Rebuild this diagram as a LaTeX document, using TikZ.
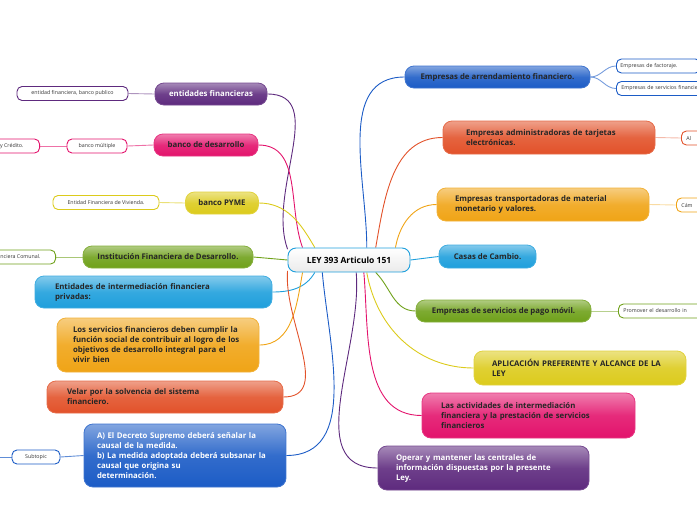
\documentclass[tikz,border=0pt]{standalone}
\usepackage{fontspec}
\setmainfont{Open Sans}
\usetikzlibrary{backgrounds,calc}
\hyphenpenalty=10000
\exhyphenpenalty=10000
\definecolor{cpur}{HTML}{5E2A7E}
\definecolor{cpink}{HTML}{E3136C}
\definecolor{cyel}{HTML}{DCCB1C}
\definecolor{cgrn}{HTML}{6FA11A}
\definecolor{clb}{HTML}{1E9FDC}
\definecolor{cor}{HTML}{F0A416}
\definecolor{cred}{HTML}{E2522A}
\definecolor{cblu}{HTML}{1C5CC6}
\tikzset{
 mainb/.style={rounded corners=9pt, draw=#1!85!white, line width=0.8pt, top color=#1!55!white, bottom color=#1, middle color=#1!90!white, font=\bfseries\fontsize{7.8}{10}\selectfont, text=black!85, inner sep=0pt},
 leafb/.style={rounded corners=5pt, draw=#1, line width=0.9pt, fill=white, font=\fontsize{5.3}{6.5}\selectfont, text=black!80, inner sep=0pt, minimum height=14pt},
 con/.style={line width=0.9pt, #1},
}
\begin{document}
\begin{tikzpicture}[x=1pt,y=-1pt]
\clip (0,0) rectangle (697,520);
% center
\node[rounded corners=8pt, draw=clb, line width=0.9pt, top color=white, bottom color=black!8, font=\bfseries\fontsize{8.5}{10}\selectfont, minimum width=122pt, minimum height=24pt, inner sep=0pt] (ctr) at (349,260) {LEY 393 Articulo 151};
% left main
\node[mainb=cpur, text=white, minimum width=112pt, minimum height=22pt] (ef) at (211,94) {entidades financieras};
\node[mainb=cpink, minimum width=104pt, minimum height=22pt] (bd) at (206,145) {banco de desarrollo};
\node[mainb=cyel, minimum width=73pt, minimum height=22pt] (bp) at (222,203) {banco PYME};
\node[mainb=cgrn, minimum width=170pt, minimum height=22pt] (ifd) at (168,257) {Institución Financiera de Desarrollo.};
\node[mainb=clb, minimum width=237pt, minimum height=32pt, text width=197pt, align=left] (eip) at (153.5,292) {Entidades de intermediación financiera\\ privadas:};
\node[mainb=cor, minimum width=202pt, minimum height=54pt, text width=170pt, align=left] (sf) at (158,345) {Los servicios financieros deben cumplir la\\ función social de contribuir al logro de los\\ objetivos de desarrollo integral para el\\ vivir bien};
\node[mainb=cred, minimum width=236pt, minimum height=32pt, text width=196pt, align=left] (vs) at (165,397) {Velar por la solvencia del sistema\\ financiero.};
\node[mainb=cblu, text=white, minimum width=202pt, minimum height=63pt, text width=176pt, align=left] (dec) at (185,455.5) {A) El Decreto Supremo deberá señalar la\\ causal de la medida.\\ b) La medida adoptada deberá subsanar la\\ causal que origina su\\ determinación.};
% right main
\node[mainb=cblu, minimum width=185pt, minimum height=22pt] (arr) at (497.5,77) {Empresas de arrendamiento financiero.};
\node[mainb=cred, minimum width=212pt, minimum height=33pt, text width=166pt, align=left] (tar) at (549,137.5) {Empresas administradoras de tarjetas\\ electrónicas.};
\node[mainb=cor, minimum width=212pt, minimum height=33pt, text width=176pt, align=left] (tra) at (543,204.5) {Empresas transportadoras de material\\ monetario y valores.};
\node[mainb=clb, minimum width=97pt, minimum height=23pt] (cc) at (487.5,256.5) {Casas de Cambio.};
\node[mainb=cgrn, minimum width=175pt, minimum height=22pt] (pm) at (503.5,311) {Empresas de servicios de pago móvil.};
\node[mainb=cyel, minimum width=212pt, minimum height=34pt, text width=176pt, align=left] (apl) at (580,368) {APLICACIÓN PREFERENTE Y ALCANCE DE LA\\ LEY};
\node[mainb=cpink, minimum width=213pt, minimum height=45pt, text width=175pt, align=left] (act) at (528.5,415.5) {Las actividades de intermediación\\ financiera y la prestación de servicios\\ financieros};
\node[mainb=cpur, text=white, minimum width=211pt, minimum height=44pt, text width=175pt, align=left] (op) at (483.5,468) {Operar y mantener las centrales de\\ información dispuestas por la presente\\ Ley.};
% leaves
\node[leafb=cpur, minimum width=111pt] (l1) at (72.5,93.5) {entidad financiera, banco publico};
\node[leafb=cpink, minimum width=60pt] (l2) at (97,146) {banco múltiple};
\node[leafb=cpink, minimum width=60pt, anchor=east] (l3) at (40,146) {o y Crédito.};
\node[leafb=cyel, minimum width=106pt] (l4) at (106,202.5) {Entidad Financiera de Vivienda.};
\node[leafb=cgrn, minimum width=70pt, anchor=east] (l5) at (56,257) {nciera Comunal.};
\node[leafb=cblu, minimum width=48pt] (l6) at (36,457) {Subtopic};
\coordinate (l6e) at (0,457);
\node[leafb=cblu, minimum width=84pt, anchor=west, text width=76pt, align=left] (r1) at (616,66) {Empresas de factoraje.};
\node[leafb=cblu, minimum width=110pt, anchor=west, text width=100pt, align=left] (r2) at (616,88.5) {Empresas de servicios financieros};
\node[leafb=cred, minimum width=40pt, anchor=west, text width=30pt, align=left] (r3) at (681,138) {Al};
\node[leafb=cor, minimum width=40pt, anchor=west, text width=30pt, align=left] (r4) at (676,205) {Cám};
\node[leafb=cgrn, minimum width=110pt, anchor=west, text width=100pt, align=left] (r5) at (618,311) {Promover el desarrollo in};
\begin{scope}[on background layer]
\draw[con=cpur] (ctr.170) to[out=110,in=0] (ef.east);
\draw[con=cpink] (ctr.165) to[out=110,in=0] (bd.east);
\draw[con=cyel] (ctr.160) to[out=120,in=0] (bp.east);
\draw[con=cgrn] (ctr.west) -- (ifd.east);
\draw[con=clb] (ctr.200) to[out=240,in=0] (eip.east);
\draw[con=cor] (ctr.195) to[out=260,in=0] (sf.east);
\draw[con=cred] (ctr.190) to[out=265,in=0] (vs.east);
\draw[con=cblu] (ctr.205) to[out=275,in=0] (dec.east);
\draw[con=cblu] (ctr.35) to[out=90,in=180] (arr.west);
\draw[con=cred] (ctr.25) to[out=80,in=180] (tar.west);
\draw[con=cor] (ctr.15) to[out=80,in=180] (tra.west);
\draw[con=clb] (ctr.east) -- (cc.west);
\draw[con=cgrn] (ctr.335) to[out=-45,in=180] (pm.west);
\draw[con=cyel] (ctr.325) to[out=-80,in=180] (apl.west);
\draw[con=cpink] (ctr.320) to[out=-85,in=180] (act.west);
\draw[con=cpur] (ctr.300) to[out=-85,in=180] (op.west);
\draw[con=cpur!50] (ef.west) -- (l1.east);
\draw[con=cpink!60] (bd.west) -- (l2.east);
\draw[con=cpink!60] (l2.west) -- (l3.east);
\draw[con=cyel!60] (bp.west) -- (l4.east);
\draw[con=cgrn!60] (ifd.west) -- (l5.east);
\draw[con=cblu!70] (dec.west) -- (l6.east);
\draw[con=cblu!70] (l6.west) -- (l6e);
\draw[con=cblu!60] (arr.east) to[out=0,in=180] (r1.west);
\draw[con=cblu!60] (arr.east) to[out=0,in=180] (r2.west);
\draw[con=cred!40] (tar.east) -- (r3.west);
\draw[con=cor!40] (tra.east) -- (r4.west);
\draw[con=cgrn!50] (pm.east) -- (r5.west);
\end{scope}
\end{tikzpicture}
\end{document}
